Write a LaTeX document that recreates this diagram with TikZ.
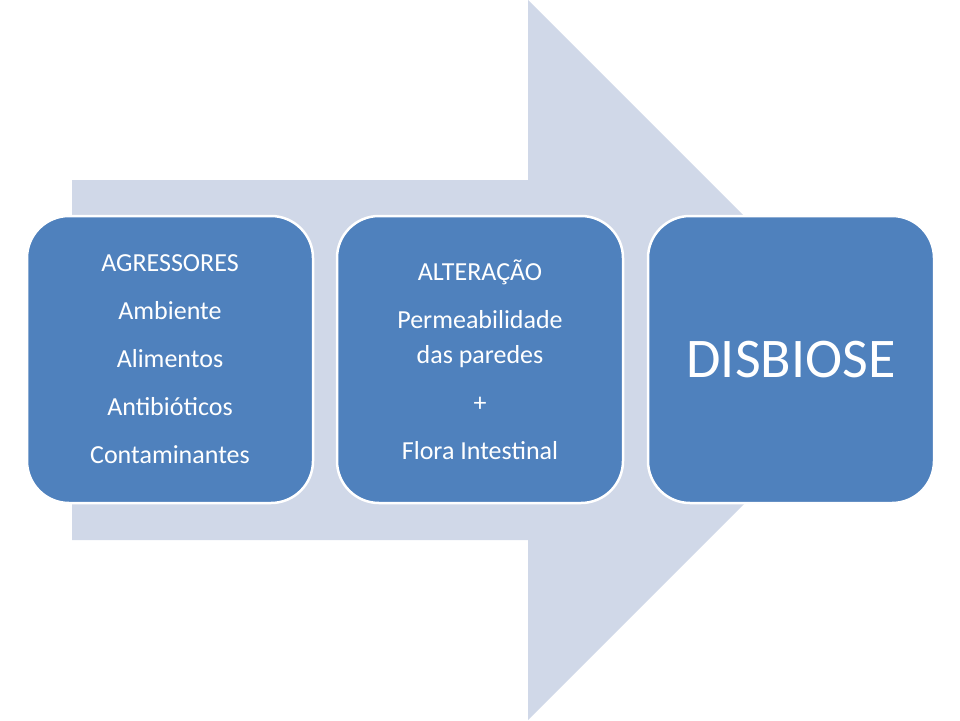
\documentclass[tikz,border=0pt]{standalone}
\usepackage{fontspec}
\setmainfont{Carlito}
\begin{document}
\begin{tikzpicture}[x=1pt,y=-1pt,
  box/.style={draw=white,line width=2.5pt,fill=boxblue,rounded corners=42pt,minimum width=286pt,minimum height=287pt,text=white,align=center,inner sep=0pt}]
\definecolor{boxblue}{HTML}{4F81BD}
\definecolor{arrowc}{HTML}{D0D8E8}
\useasboundingbox (0,0) rectangle (960,720);
\fill[white] (0,0) rectangle (960,720);
\fill[arrowc] (72,180) -- (528,180) -- (528,0) -- (888,360) -- (528,720) -- (528,540) -- (72,540) -- cycle;
\node[box,font=\fontsize{26}{48}\selectfont] (a) at (170,359.5) {AGRESSORES\\Ambiente\\Alimentos\\Antibióticos\\Contaminantes};
\node[box,font=\fontsize{26}{35}\selectfont] (b) at (480,359.5) {ALTERAÇÃO\\[13pt]Permeabilidade\\das paredes\\[13pt]+\\[13pt]Flora Intestinal};
\node[box,font=\fontsize{56}{60}\selectfont] (c) at (791,359.5) {DISBIOSE};
\end{tikzpicture}
\end{document}
